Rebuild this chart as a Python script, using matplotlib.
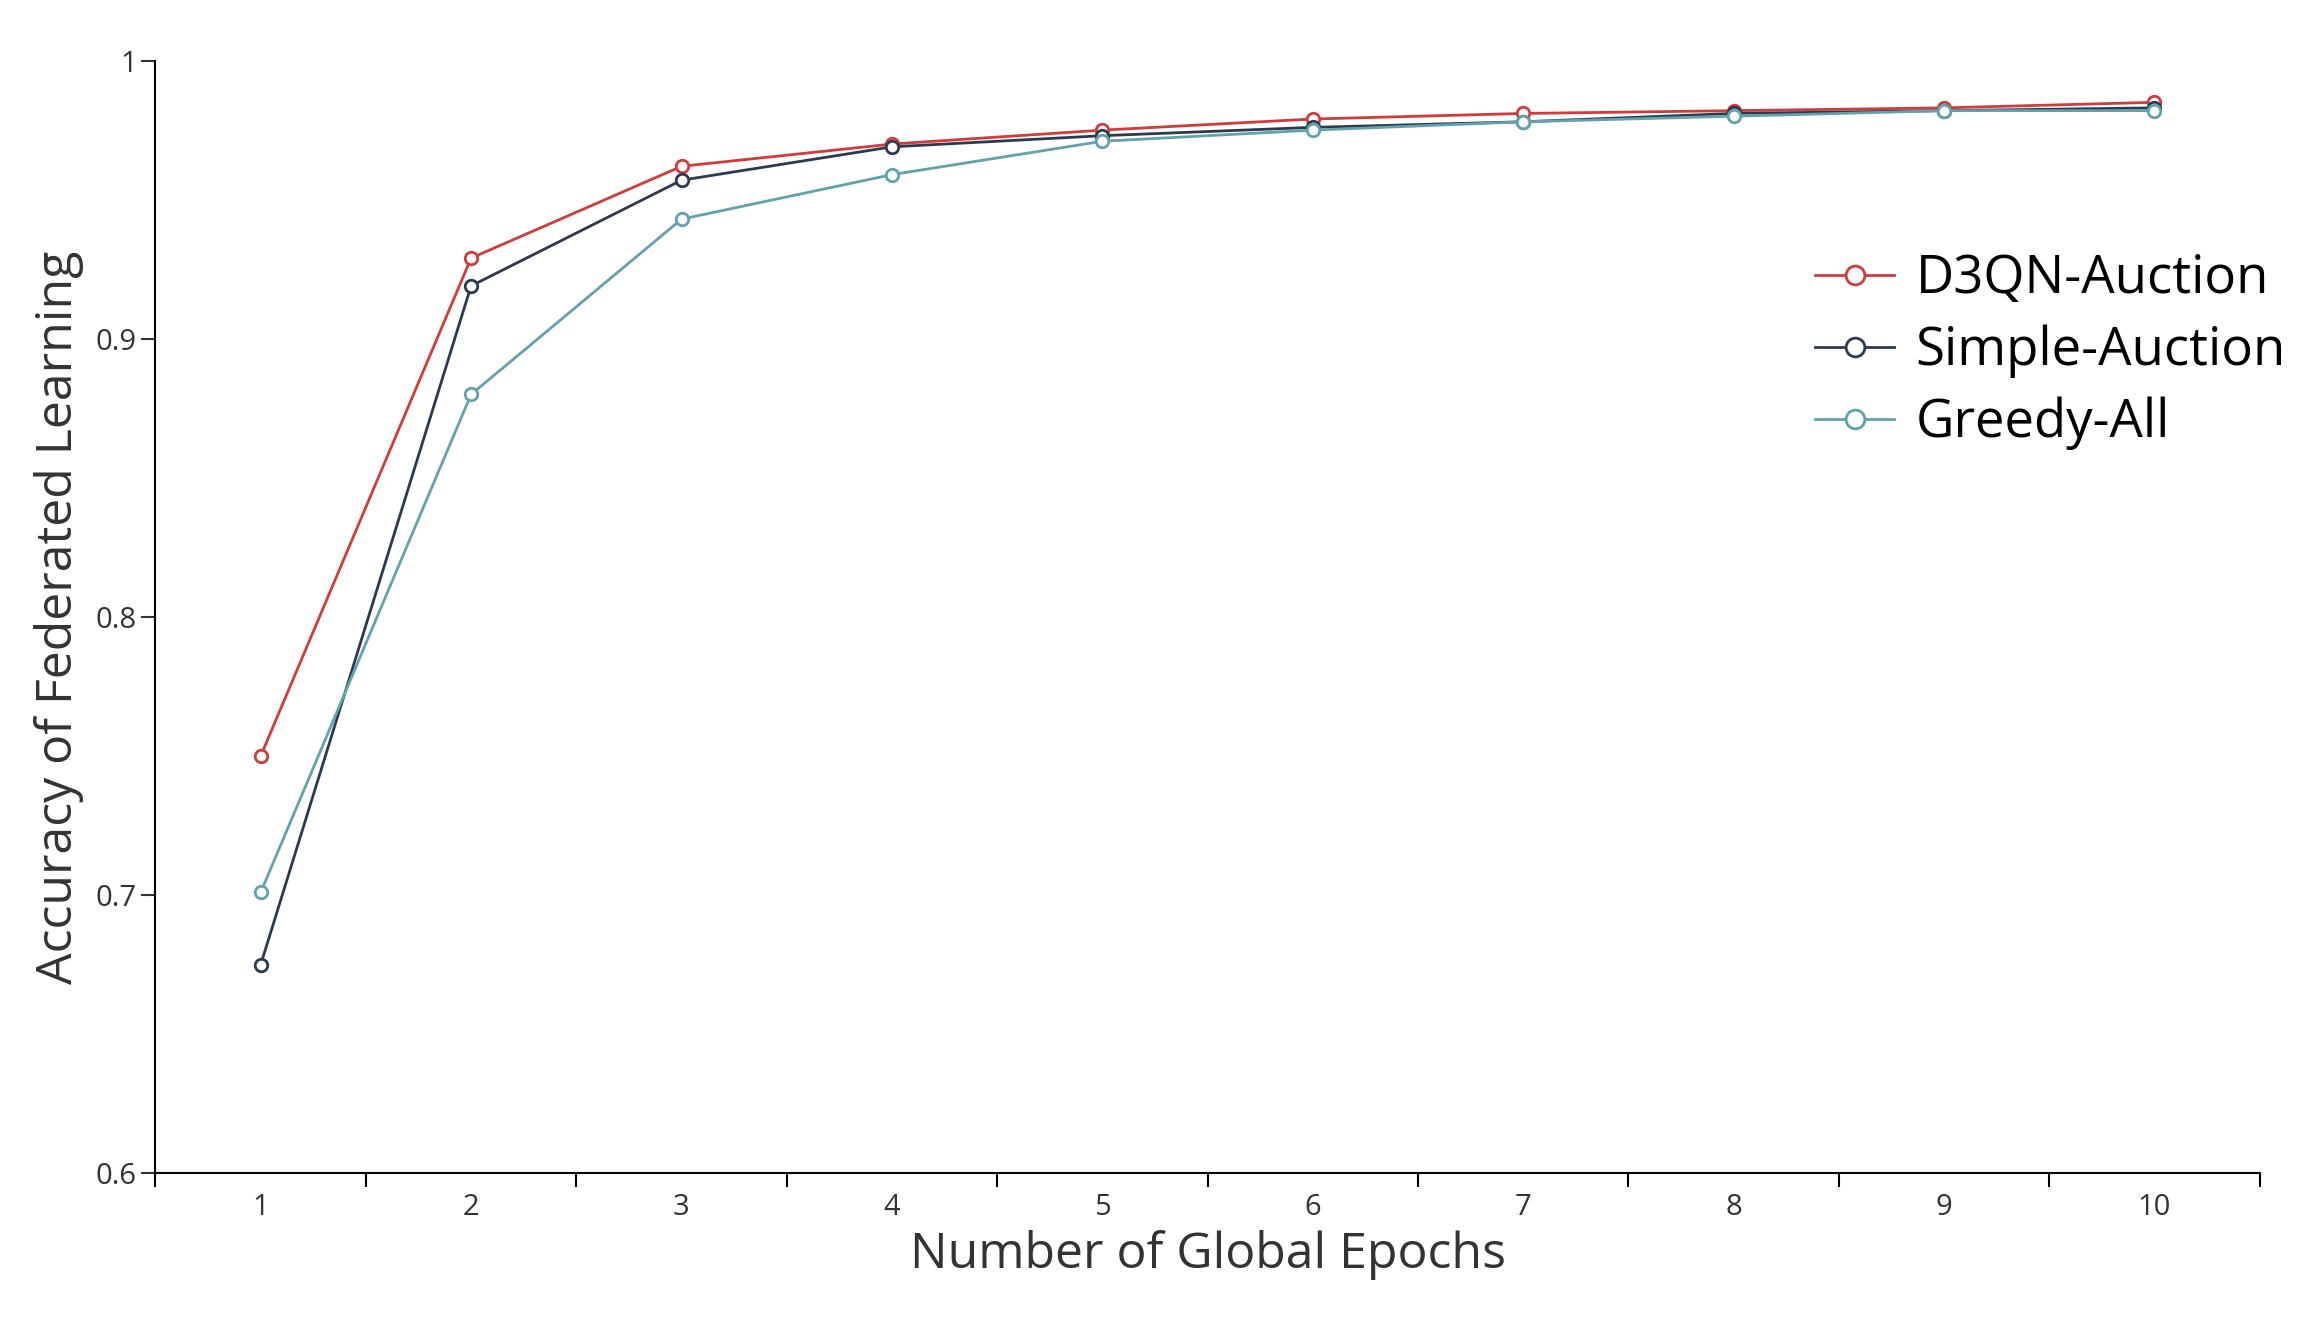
import matplotlib
matplotlib.use("Agg")
import matplotlib.pyplot as plt
from matplotlib.ticker import FixedLocator, NullFormatter

plt.rcParams['font.family'] = ['Open Sans', 'DejaVu Sans']

epochs = [1, 2, 3, 4, 5, 6, 7, 8, 9, 10]
d3qn = [0.750, 0.929, 0.962, 0.970, 0.975, 0.979, 0.981, 0.982, 0.983, 0.985]
simple = [0.675, 0.919, 0.957, 0.969, 0.973, 0.976, 0.978, 0.981, 0.982, 0.983]
greedy = [0.701, 0.880, 0.943, 0.959, 0.971, 0.975, 0.978, 0.980, 0.982, 0.982]
names = ["D3QN-Auction", "Simple-Auction", "Greedy-All"]
colors = ["#d23b3b", "#2b3a4e", "#62a3ab"]
yticks = [0.6, 0.7, 0.8, 0.9, 1.0]
ylabels = ["0.6", "0.7", "0.8", "0.9", "1"]

fig = plt.figure(figsize=(23.2, 13.17), dpi=100)
ax = fig.add_axes([0.067, 0.109, 0.907, 0.845])
for s, n, c in zip([d3qn, simple, greedy], names, colors):
    ax.plot(epochs, s, color=c, lw=2, marker='o', ms=9, mfc='white', mec=c, mew=2, label=n)

ax.set_xlim(0.5, 10.5)
ax.set_ylim(0.6, 1.0)
ax.xaxis.set_major_locator(FixedLocator([e - 0.5 for e in epochs] + [10.5]))
ax.xaxis.set_major_formatter(NullFormatter())
ax.xaxis.set_minor_locator(FixedLocator(epochs))
ax.set_xticklabels([str(e) for e in epochs], minor=True)
ax.tick_params(axis='x', which='major', length=10, width=1.5)
ax.tick_params(axis='x', which='minor', length=0, labelsize=21, pad=14, colors='#333333')
ax.set_yticks(yticks)
ax.set_yticklabels(ylabels)
ax.tick_params(axis='y', length=10, width=1.5, labelsize=21, colors='#333333')
for sp in ['top', 'right']:
    ax.spines[sp].set_visible(False)
for sp in ['left', 'bottom']:
    ax.spines[sp].set_linewidth(1.5)
ax.set_xlabel("Number of Global Epochs", fontsize=36, color='#333333', labelpad=6)
ax.set_ylabel("Accuracy of Federated Learning", fontsize=36, color='#333333', labelpad=8)
ax.legend(loc='upper right', bbox_to_anchor=(1.035, 0.87), frameon=False, fontsize=38,
          handlelength=1.5, labelspacing=0.35, handletextpad=0.4, markerscale=1.5)
fig.savefig("out.png", dpi=100)
